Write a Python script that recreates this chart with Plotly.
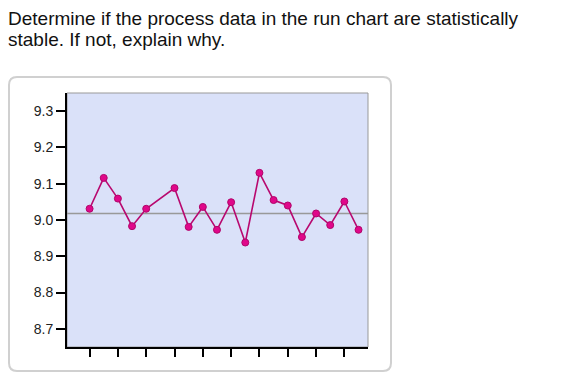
import plotly.graph_objects as go

# Data
sample = [1, 2, 3, 4, 5, 7, 8, 9, 10, 11, 12, 13, 14, 15, 16, 17, 18, 19, 20]
values = [9.031, 9.116, 9.059, 8.983, 9.031, 9.088, 8.981, 9.036, 8.973, 9.049,
          8.938, 9.130, 9.055, 9.040, 8.953, 9.018, 8.986, 9.051, 8.973]
center_value = 9.018
y_ticks = [8.7, 8.8, 8.9, 9.0, 9.1, 9.2, 9.3]
x_ticks = [1, 3, 5, 7, 9, 11, 13, 15, 17, 19]
title_lines = ["Determine if the process data in the run chart are statistically",
               "stable. If not, explain why."]

W, H = 580, 380
L, R, T, B = 67, 368, 93, 347
pw, ph = R - L, B - T


def xp(px):
    return (px - L) / pw


def yp(py):
    return (B - py) / ph


fig = go.Figure()
fig.add_trace(go.Scatter(
    x=sample, y=values, mode="lines+markers",
    line=dict(color="#b8086f", width=1.6),
    marker=dict(size=7, color="#e0078a", line=dict(color="#b0066a", width=1)),
    hoverinfo="skip", showlegend=False,
))

# rounded frame
x0, x1, yt, yb = xp(9), xp(391), yp(77), yp(371)
rx, ry = 8 / pw, 8 / ph
path = (f"M {x0+rx},{yt} L {x1-rx},{yt} Q {x1},{yt} {x1},{yt-ry} "
        f"L {x1},{yb+ry} Q {x1},{yb} {x1-rx},{yb} L {x0+rx},{yb} "
        f"Q {x0},{yb} {x0},{yb+ry} L {x0},{yt-ry} Q {x0},{yt} {x0+rx},{yt} Z")
shapes = [
    dict(type="path", xref="paper", yref="paper", path=path,
         line=dict(color="#d0d0d0", width=2), layer="below"),
    dict(type="rect", xref="paper", yref="paper", x0=0, x1=1, y0=0, y1=1,
         line=dict(color="#999999", width=1), layer="below"),
    dict(type="line", xref="paper", yref="y", x0=0, x1=1,
         y0=center_value, y1=center_value,
         line=dict(color="#999999", width=1.5), layer="below"),
]

annotations = []
for i, t in enumerate(title_lines):
    annotations.append(dict(
        text=t, xref="paper", yref="paper", x=xp(6), y=yp(18.5 + 21.5 * i),
        xanchor="left", yanchor="middle", showarrow=False,
        font=dict(family="Liberation Sans, Arial", size=19, color="#111111"),
    ))

fig.update_layout(
    width=W, height=H, autosize=False,
    margin=dict(l=L, r=W - R, t=T, b=H - B, pad=0),
    paper_bgcolor="white", plot_bgcolor="#dae1f9",
    shapes=shapes, annotations=annotations,
    xaxis=dict(range=[1 - 22.6 / 14.17, 1 + 278.7 / 14.17], tickvals=x_ticks,
               showticklabels=False, ticks="outside", ticklen=8, tickwidth=1.5,
               tickcolor="black", showgrid=False, zeroline=False,
               showline=True, linecolor="black", linewidth=2, fixedrange=True),
    yaxis=dict(range=[8.65, 9.35], tickvals=y_ticks,
               ticktext=[f"{v:.1f}" for v in y_ticks],
               ticks="outside", ticklen=9, tickwidth=1.5, tickcolor="black",
               tickfont=dict(family="Liberation Sans, Arial", size=14, color="#222222"),
               showgrid=False, zeroline=False,
               showline=True, linecolor="black", linewidth=2, fixedrange=True),
)

fig.write_html("out.html", config={"displayModeBar": False})
